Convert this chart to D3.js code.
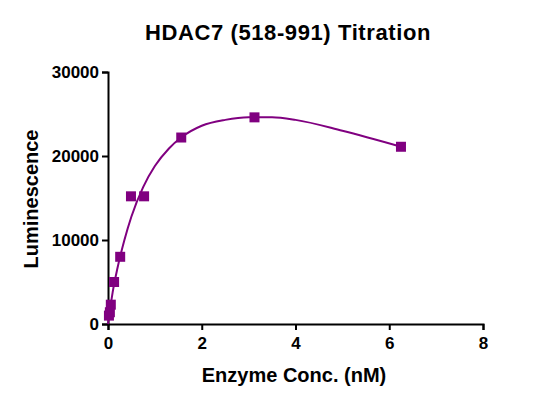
<!DOCTYPE html>
<html><head><meta charset="utf-8">
<script src="https://cdn.jsdelivr.net/npm/d3@7"></script>
<style>body{margin:0;background:#fff}text{font-family:Arial,"Liberation Sans",sans-serif;font-weight:bold}</style>
</head><body><svg id="c" width="541" height="403"></svg>
<script>
const xData=[0.02,0.04,0.06,0.13,0.26,0.49,0.77,1.5625,3.125,6.25];
const yData=[1000,1400,2300,5000,8000,15200,15200,22200,24600,21100];
const curveX=[0,0.05,0.1,0.2,0.35,0.5,0.75,1,1.3,1.56,2,2.5,3,3.5,4,5,6.25];
const curveY=[0,2000,3800,6600,10000,12800,16300,18800,20900,22200,23600,24300,24600,24600,24300,23000,21100];
const xTicks=[0,2,4,6,8];
const yTicks=[0,10000,20000,30000];
const svg=d3.select("#c");
const x=d3.scaleLinear().domain([0,8]).range([108,483]);
const y=d3.scaleLinear().domain([0,30000]).range([324,72]);
const col="#800080";
svg.append("g").attr("transform","translate(0,324)").call(d3.axisBottom(x).tickValues(xTicks).tickFormat(d3.format("d")).tickSize(6))
 .call(g=>{g.select(".domain").attr("stroke-width",2);g.selectAll("line").attr("stroke-width",2);g.selectAll("text").attr("font-size",17).attr("dy","0.95em")});
svg.append("g").attr("transform","translate(108,0)").call(d3.axisLeft(y).tickValues(yTicks).tickFormat(d3.format("d")).tickSize(6))
 .call(g=>{g.select(".domain").attr("stroke-width",2);g.selectAll("line").attr("stroke-width",2);g.selectAll("text").attr("font-size",17)});
svg.append("path").datum(curveX.map((v,i)=>[v,curveY[i]])).attr("fill","none").attr("stroke",col).attr("stroke-width",2)
 .attr("d",d3.line().x(d=>x(d[0])).y(d=>y(d[1])).curve(d3.curveMonotoneX));
svg.selectAll("rect.p").data(xData.map((v,i)=>[v,yData[i]])).join("rect").attr("class","p")
 .attr("x",d=>x(d[0])-5).attr("y",d=>y(d[1])-5).attr("width",10).attr("height",10).attr("fill",col);
svg.append("text").attr("x",288).attr("y",40).attr("text-anchor","middle").attr("font-size",22).attr("letter-spacing","0.6").text("HDAC7 (518-991) Titration");
svg.append("text").attr("x",294).attr("y",382).attr("text-anchor","middle").attr("font-size",20).text("Enzyme Conc. (nM)");
svg.append("text").attr("transform","translate(38,199) rotate(-90)").attr("text-anchor","middle").attr("font-size",20).text("Luminescence");
</script></body></html>
